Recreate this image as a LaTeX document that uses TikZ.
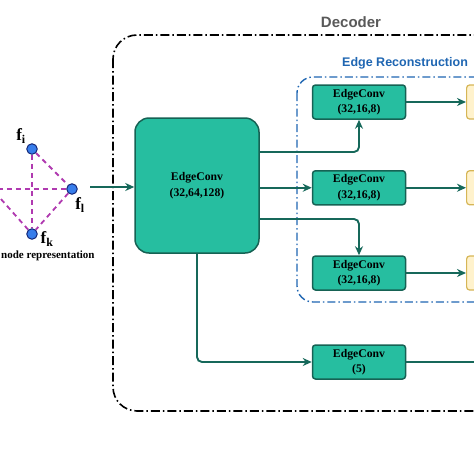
\documentclass[tikz,border=0pt]{standalone}
\usepackage{fontspec}
\setmainfont{Liberation Serif}
\newfontfamily\labelfont{Liberation Sans}
\usetikzlibrary{arrows.meta, positioning, backgrounds}

\definecolor{convfill}{RGB}{38,190,160}
\definecolor{convdraw}{RGB}{22,98,84}
\definecolor{flowcol}{RGB}{22,104,90}
\definecolor{outfill}{RGB}{255,242,204}
\definecolor{outdraw}{RGB}{214,182,86}
\definecolor{recblue}{RGB}{31,102,178}
\definecolor{graphpink}{RGB}{176,58,176}
\definecolor{vertexblue}{RGB}{55,125,235}
\definecolor{vertexdraw}{RGB}{20,40,120}

\begin{document}
\begin{tikzpicture}[
    x=1pt, y=-1pt,
    conv/.style={rectangle, draw=convdraw, line width=1.5pt, fill=convfill,
                 rounded corners=3pt, minimum width=93pt, minimum height=34pt,
                 align=center, inner sep=1pt,
                 font=\fontsize{11.7}{15.5}\selectfont\bfseries},
    bigconv/.style={conv, minimum width=124pt, minimum height=135pt,
                    rounded corners=14pt},
    outbox/.style={rectangle, draw=outdraw, line width=1.2pt, fill=outfill,
                   rounded corners=3pt, minimum width=60pt, minimum height=34pt},
    flow/.style={-{Stealth[length=9pt, width=8pt]}, line width=1.9pt,
                 draw=flowcol, rounded corners=5pt},
    vertex/.style={circle, draw=vertexdraw, line width=1pt, fill=vertexblue,
                   minimum size=10.5pt, inner sep=0pt},
    edgeline/.style={draw=graphpink, line width=1.8pt,
                     dash pattern=on 5pt off 4pt},
    flabel/.style={font=\fontsize{17}{17}\selectfont\bfseries, inner sep=0pt},
    decoderline/.style={line width=1.6pt,
                        dash pattern=on 9pt off 3pt on 1.5pt off 3pt},
    recline/.style={draw=recblue, line width=1.4pt,
                    dash pattern=on 8pt off 3pt on 1.5pt off 3pt}
]
    \useasboundingbox (0,0) rectangle (474,474);
    \clip (0,0) rectangle (474,474);

    % containers
    \draw[decoderline, rounded corners=24pt] (113,35) rectangle (560,411);
    \node[font=\labelfont\fontsize{15}{15}\selectfont\bfseries, text=black!65]
        (declabel) at (351,22) {Decoder};
    \draw[recline, rounded corners=16pt] (297,77) rectangle (560,302);
    \node[font=\labelfont\fontsize{12.5}{13}\selectfont\bfseries, text=recblue,
          anchor=west, inner sep=0pt] (reclabel) at (342,63) {Edge Reconstruction};

    % node representation
    \node[vertex] (fi) at (32,149) {};
    \node[vertex] (fl) at (72,189) {};
    \node[vertex] (fk) at (32,234) {};
    \node[vertex] (fj) at (-8,189) {};
    \begin{scope}[on background layer]
        \draw[edgeline] (fi) -- (fl) -- (fk) -- (fj) -- cycle;
        \draw[edgeline] (fi) -- (fk);
        \draw[edgeline] (fj) -- (fl);
    \end{scope}
    \node[flabel] (lfi) at (21,136) {f\textsubscript{i}};
    \node[flabel] (lfl) at (80,205) {f\textsubscript{l}};
    \node[flabel] (lfk) at (47,239) {f\textsubscript{k}};
    \node[font=\fontsize{11}{11}\selectfont\bfseries, anchor=west, inner sep=0pt]
        (nrep) at (1,256) {node representation};

    % decoder blocks
    \node[bigconv] (big) at (197,185.5) {EdgeConv\\(32,64,128)};
    \node[conv] (r1) at (359,102) {EdgeConv\\(32,16,8)};
    \node[conv] (r2) [below=50.25pt of r1] {EdgeConv\\(32,16,8)};
    \node[conv] (r3) [below=49.75pt of r2] {EdgeConv\\(32,16,8)};
    \node[conv] (fin) at (359,362) {EdgeConv\\(5)};

    \node[outbox, anchor=west] (o1) at (r1.east -| 466,0) {};
    \node[outbox, anchor=west] (o2) at (r2.east -| 466,0) {};
    \node[outbox, anchor=west] (o3) at (r3.east -| 466,0) {};
    \coordinate (o4) at (490,362);
    \coordinate (gin) at (90,187);

    % connectors
    \draw[flow] (gin) -- (gin -| big.west);
    \draw[flow] ([yshift=33.5pt]big.east) -| (r1.south);
    \draw[flow] (big.east |- r2.west) -- (r2.west);
    \draw[flow] ([yshift=-33.5pt]big.east) -| (r3.north);
    \draw[flow] (big.south) |- (fin.west);
    \draw[flow] (r1.east) -- (o1.west);
    \draw[flow] (r2.east) -- (o2.west);
    \draw[flow] (r3.east) -- (o3.west);
    \draw[flow, -] (fin.east) -- (o4);
\end{tikzpicture}
\end{document}
